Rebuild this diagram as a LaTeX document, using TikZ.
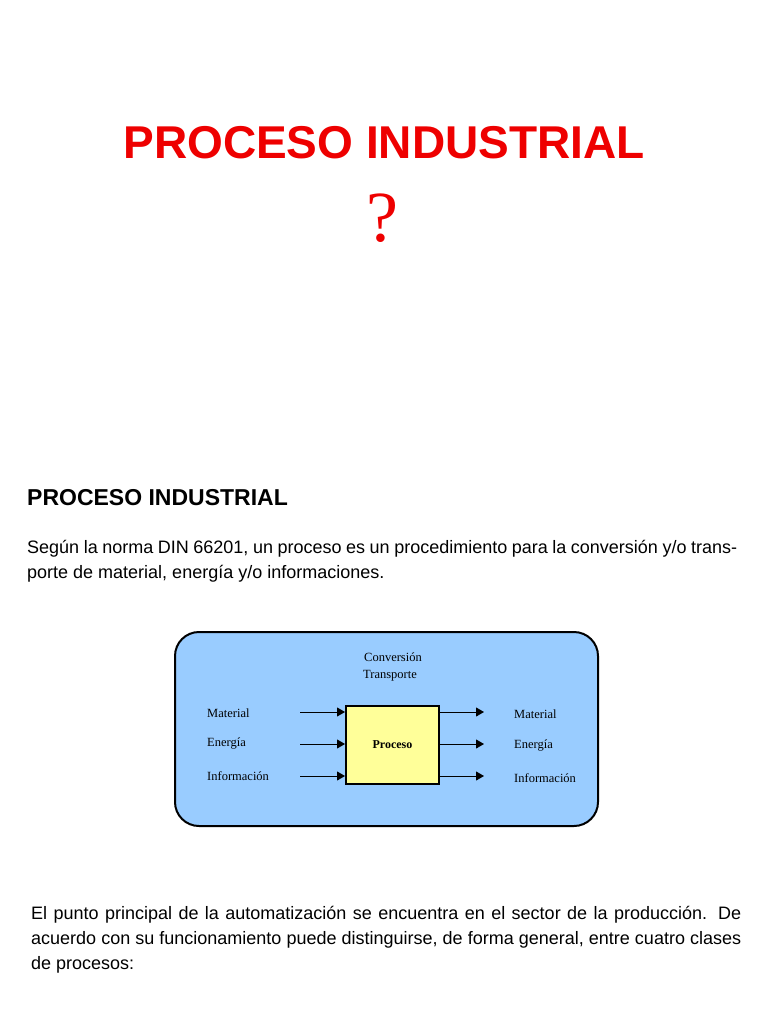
\documentclass[tikz,border=0pt]{standalone}
\usepackage{fontspec}
\setmainfont{Liberation Sans}
\newfontfamily\tms{Liberation Serif}
\usetikzlibrary{arrows.meta}
\definecolor{titred}{RGB}{238,0,0}
\definecolor{boxblue}{RGB}{153,204,255}
\definecolor{boxyel}{RGB}{255,255,153}
\begin{document}
\begin{tikzpicture}[x=1pt,y=-1pt,
  para/.style={anchor=north west,inner sep=0pt,text width=710pt,align=justify,font=\fontsize{18}{25}\selectfont},
  lbl/.style={font=\tms\fontsize{12.5}{14}\selectfont,inner sep=0pt},
  flow/.style={-{Triangle[length=8pt,width=9pt]},line width=0.8pt}]
\useasboundingbox (0,0) rectangle (768,1024);
\node[text=titred,font=\bfseries\fontsize{46}{50}\selectfont] (title) at (384,143) {PROCESO INDUSTRIAL};
\node[text=titred,font=\tms\fontsize{72}{72}\selectfont] (q) at (382,218) {?};
\node[anchor=base west,inner sep=0pt,font=\bfseries\fontsize{23}{26}\selectfont] (h) at (27,505) {PROCESO INDUSTRIAL};
\node[para] (p1) at (27,540) {Según la norma DIN 66201, un proceso es un procedimiento para la conversión y/o transporte de material, energía y/o informaciones.};
\draw[line width=2pt,fill=boxblue,rounded corners=24pt] (175,632) rectangle (598,826);
\node[lbl] (conv) at (393,657) {Conversión};
\node[lbl] (trans) at (390,676) {Transporte};
\node[draw,line width=2pt,fill=boxyel,minimum width=93pt,minimum height=78pt,inner sep=0pt,font=\tms\bfseries\fontsize{12}{14}\selectfont] (proc) at (392.5,745) {Proceso};
\node[lbl,anchor=west] (mi) at (207,713) {Material};
\node[lbl,anchor=west] (ei) at (207,743) {Energía};
\node[lbl,anchor=west] (ii) at (207,776) {Información};
\node[lbl,anchor=west] (mo) at (514,714) {Material};
\node[lbl,anchor=west] (eo) at (514,745) {Energía};
\node[lbl,anchor=west] (io) at (514,778) {Información};
\coordinate (a1) at (300,712); \coordinate (a2) at (300,744); \coordinate (a3) at (300,776);
\coordinate (b1) at (484,712); \coordinate (b2) at (484,744); \coordinate (b3) at (484,776);
\draw[flow] (a1) -- (a1 -| proc.west);
\draw[flow] (a2) -- (a2 -| proc.west);
\draw[flow] (a3) -- (a3 -| proc.west);
\draw[flow] (b1 -| proc.east) -- (b1);
\draw[flow] (b2 -| proc.east) -- (b2);
\draw[flow] (b3 -| proc.east) -- (b3);
\node[para] (p2) at (31,906) {El punto principal de la automatización se encuentra en el sector de la producción. De acuerdo con su funcionamiento puede distinguirse, de forma general, entre cuatro clases de procesos:};
\end{tikzpicture}
\end{document}
